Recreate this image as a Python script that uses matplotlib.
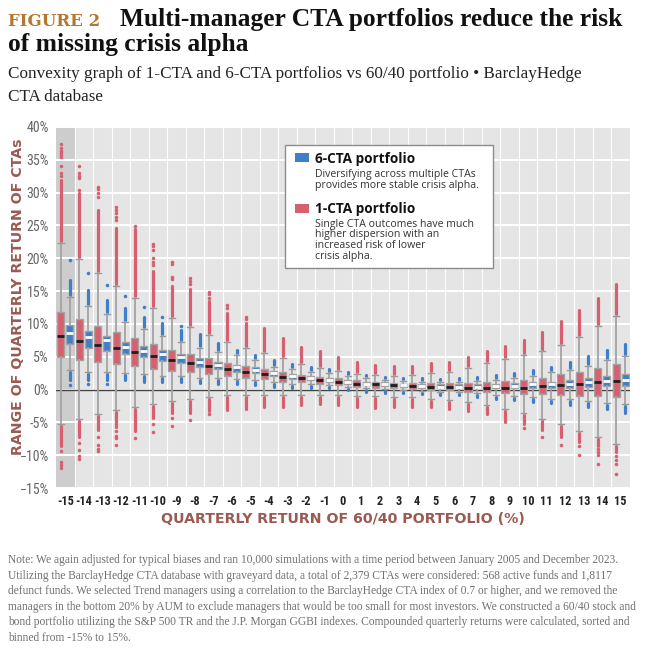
'''
Convexity graph: 1-CTA vs 6-CTA portfolios, binned by 60/40 quarterly return
'''

import numpy as np
import matplotlib
matplotlib.use('Agg')
import matplotlib.pyplot as plt
from matplotlib.patches import Rectangle
from matplotlib import font_manager

W, H = 652, 649

bins = list(range(-15, 16))
bin_labels = [str(b) for b in bins]

# 1-CTA portfolio (%), one value per bin from -15 to 15
one_med = [8.2, 7.4, 6.8, 6.3, 5.7, 5.1, 4.5, 4.0, 3.6, 3.1, 2.7, 2.4, 1.9, 1.7, 1.4, 1.2,
           0.9, 0.8, 0.7, 0.6, 0.4, 0.4, 0.3, 0.3, 0.3, 0.3, 0.5, 0.7, 0.8, 1.1, 1.3]
one_q1 = [4.9, 4.5, 4.2, 3.9, 3.6, 3.2, 2.9, 2.6, 2.4, 2.0, 1.7, 1.6, 1.2, 1.1, 0.8, 0.7,
          0.4, 0.3, 0.2, 0.1, -0.1, -0.1, -0.3, -0.4, -0.6, -0.7, -0.7, -0.9, -1.0, -1.0, -1.1]
one_q3 = [11.8, 10.7, 9.7, 8.7, 7.8, 6.9, 6.1, 5.4, 4.8, 4.1, 3.6, 3.2, 2.7, 2.2, 1.9, 1.7,
          1.4, 1.2, 1.0, 1.0, 1.0, 1.0, 1.0, 1.1, 1.3, 1.4, 1.8, 2.3, 2.7, 3.3, 3.9]
one_whishi = [22.3, 19.9, 17.7, 15.8, 14.0, 12.5, 10.9, 9.6, 8.3, 7.3, 6.3, 5.5, 4.8, 3.9, 3.3, 2.8,
              2.4, 2.2, 2.1, 2.2, 2.5, 2.7, 3.3, 4.1, 4.7, 5.2, 5.8, 6.8, 8.0, 9.7, 11.2]
one_whislo = [-5.3, -4.5, -3.8, -3.1, -2.6, -2.2, -1.7, -1.4, -1.2, -0.9, -0.8, -0.8, -0.8, -0.8, -0.8, -0.9,
              -1.0, -1.0, -1.1, -1.2, -1.4, -1.6, -1.9, -2.4, -3.0, -3.6, -4.5, -5.3, -6.3, -7.3, -8.3]
# end of the dense run of outliers beyond each whisker
one_out_hi = [31.9, 30.0, 27.4, 24.6, 24.5, 18.0, 15.7, 15.3, 13.5, 11.6, 10.1, 9.4, 7.8, 6.5, 5.8, 5.0,
              4.2, 3.8, 3.6, 3.6, 4.0, 4.2, 4.9, 5.8, 6.6, 7.5, 8.8, 10.5, 12.1, 14.0, 16.1]
one_out_lo = [-8.6, -7.2, -6.2, -5.7, -6.3, -4.4, -3.6, -3.6, -3.3, -3.1, -2.9, -2.6, -2.6, -2.4, -2.2, -2.4,
              -2.6, -2.8, -2.7, -2.6, -2.7, -2.9, -3.2, -3.7, -4.9, -5.2, -6.2, -7.2, -8.0, -8.6, -9.5]
# single outliers further out
one_dots = {-15: [37.4, 36.8, 36.4, 36.1, 35.7, 35.4, 34.0, 33.0, 32.5, -9.4, -11.0, -11.5, -12.0],
            -14: [34.1, 33.0, 32.5, 32.2, 30.4, -8.2, -9.2, -10.2, -10.6],
            -13: [30.9, 30.5, 29.9, 29.4, -7.3, -8.5, -9.0, -9.4],
            -12: [27.8, 27.4, 26.9, 26.3, 25.8, -6.3, -7.1, -7.4, -8.5],
            -11: [24.9, -7.4],
            -10: [22.1, 21.8, 21.3, 20.0, 19.5, 19.0, -5.2, -6.4],
            -9: [19.5, 19.1, 17.2, 16.8, -4.4, -5.5],
            -8: [17.0, 16.6, 16.1, -4.6],
            -7: [14.9, 14.5, 14.0, -3.8],
            -6: [12.9, 12.4],
            -5: [11.1, 10.7],
            10: [-5.9], 11: [-7.2], 12: [-8.5], 13: [-8.6, -9.9],
            14: [-9.1, -9.5, -10.0, -11.3],
            15: [-10.2, -10.7, -11.3, -12.8]}

# 6-CTA portfolio (%)
six_med = [8.6, 8.0, 7.5, 6.5, 5.9, 5.4, 4.9, 4.2, 3.8, 3.4, 3.0, 2.5, 2.1, 1.8, 1.4, 1.2,
           0.9, 0.8, 0.7, 0.5, 0.4, 0.4, 0.4, 0.5, 0.6, 0.8, 0.8, 0.9, 1.1, 1.3, 1.4]
six_q1 = [7.0, 6.4, 5.9, 5.4, 4.9, 4.3, 4.0, 3.5, 3.1, 2.7, 2.5, 2.0, 1.6, 1.4, 1.2, 0.8,
          0.7, 0.5, 0.4, 0.2, 0.2, 0.2, 0.2, 0.2, 0.2, 0.2, 0.2, 0.3, 0.4, 0.5, 0.6]
six_q3 = [9.8, 8.9, 8.2, 7.3, 6.7, 6.0, 5.4, 4.8, 4.2, 3.8, 3.4, 2.9, 2.4, 2.1, 1.8, 1.4,
          1.2, 1.1, 0.9, 0.8, 0.8, 0.8, 0.8, 0.9, 1.0, 1.1, 1.2, 1.4, 1.7, 2.0, 2.4]
six_whishi = [14.1, 12.8, 11.5, 10.3, 9.3, 8.2, 7.3, 6.4, 5.7, 5.3, 4.5, 3.5, 3.1, 2.7, 2.5, 2.1,
              1.7, 1.4, 1.3, 1.1, 1.1, 1.2, 1.3, 1.5, 1.8, 2.1, 2.7, 3.0, 3.6, 4.5, 5.1]
six_whislo = [3.0, 2.7, 2.6, 2.5, 2.3, 2.1, 2.0, 1.8, 1.7, 1.6, 1.4, 1.2, 0.9, 0.8, 0.7, 0.4,
              0.2, 0.1, 0.0, -0.2, -0.3, -0.4, -0.6, -0.8, -1.0, -1.2, -1.5, -1.5, -1.7, -2.1, -2.2]
six_out_hi = [16.7, 15.2, 13.7, 12.4, 11.1, 10.1, 9.0, 8.4, 7.1, 6.1, 5.2, 4.5, 3.9, 3.4, 3.1, 2.6,
              2.2, 1.9, 1.8, 1.7, 1.6, 1.8, 1.9, 2.2, 2.5, 3.0, 3.4, 4.2, 5.1, 6.0, 6.9]
six_out_lo = [1.4, 1.4, 1.5, 1.4, 1.2, 1.2, 1.1, 1.0, 0.9, 0.8, 0.7, 0.4, 0.3, 0.3, 0.2, -0.1,
              -0.3, -0.5, -0.6, -0.7, -0.8, -0.9, -1.1, -1.4, -1.6, -1.9, -2.1, -2.4, -2.6, -3.0, -3.5]
six_dots = {-15: [19.7, 0.7], -14: [17.8, 0.8], -13: [16.0, 0.9], -12: [14.3],
            -11: [12.6], -10: [11.1], -9: [9.7]}

RED = '#d6606f'
BLUE = '#3f7ecb'
AXLAB = '#9a5a52'

# narrow fonts for the tick labels, if the machine has one
names = {f.name for f in font_manager.fontManager.ttflist}
NARROW = next((n for n in ['Liberation Sans Narrow', 'Roboto Condensed'] if n in names), None)
if NARROW:
    XT = dict(family=NARROW, fontsize=8.8, weight='bold')
    YT = dict(family=NARROW, fontsize=10)
else:
    XT = dict(family='Roboto', fontsize=8.2, weight='medium')
    YT = dict(family='DejaVu Sans Condensed' if 'DejaVu Sans Condensed' in names else 'Roboto',
              fontsize=9.4)


def fx(x):
    return x / W


def fy(y):
    return 1 - y / H


def draw_series(ax, offset, med, q1, q3, lo, hi, out_lo, out_hi, dots, color, medcolor):
    pos = np.array(bins) + offset
    stats = [dict(med=m, q1=a, q3=b, whislo=l, whishi=h)
             for m, a, b, l, h in zip(med, q1, q3, lo, hi)]
    ax.bxp(stats, positions=pos, widths=0.38, capwidths=0.32, patch_artist=True,
           showfliers=False, manage_ticks=False,
           boxprops=dict(facecolor=color, edgecolor='#a3a3a3', linewidth=1),
           whiskerprops=dict(color='#a3a3a3', linewidth=1.3),
           capprops=dict(color='#9a9a9a', linewidth=1),
           medianprops=dict(color=medcolor, linewidth=2, solid_capstyle='butt'),
           zorder=3)
    ax.vlines(pos, np.array(hi) + 0.3, out_hi, colors=color, linewidth=2.3, capstyle='round', zorder=2.5)
    ax.vlines(pos, out_lo, np.array(lo) - 0.3, colors=color, linewidth=2.3, capstyle='round', zorder=2.5)
    for b, vals in dots.items():
        ax.scatter([b + offset] * len(vals), vals, s=6.5, color=color, linewidths=0, zorder=2.5)


fig = plt.figure(figsize=(W / 100, H / 100), dpi=100)
ax = fig.add_axes([fx(56), fy(488), fx(630) - fx(56), fy(127) - fy(488)])
ax.set_facecolor('#e5e5e5')
ax.axvspan(-15.5, -14.5, color='#cdcdcd', zorder=0)
for y in range(-15, 45, 5):
    ax.axhline(y, color='white', linewidth=1.4, zorder=1)
for b in bins[:-1]:
    ax.axvline(b + 0.5, color='white', linewidth=0.8, zorder=1)
ax.axhline(0, color='#444444', linewidth=1, zorder=2)

draw_series(ax, -0.25, one_med, one_q1, one_q3, one_whislo, one_whishi, one_out_lo, one_out_hi,
            one_dots, RED, '#1e1e1e')
draw_series(ax, 0.25, six_med, six_q1, six_q3, six_whislo, six_whishi, six_out_lo, six_out_hi,
            six_dots, BLUE, 'white')

ax.set_xlim(-15.5, 15.5)
ax.set_ylim(-15, 40)
ax.set_xticks(bins)
ax.set_xticklabels(bin_labels, color='#222222', **XT)
yt = list(range(-15, 45, 5))
ax.set_yticks(yt)
ax.set_yticklabels([('\u2212%d%%' % -v) if v < -5 else '%d%%' % v for v in yt],
                   color='#666666', **YT)
ax.tick_params(length=0, pad=5)
for s in ax.spines.values():
    s.set_visible(False)

ax.set_xlabel('QUARTERLY RETURN OF 60/40 PORTFOLIO (%)', fontsize=10.2, weight='bold',
              color=AXLAB, labelpad=3)
ax.set_ylabel('RANGE OF QUARTERLY RETURN OF CTAs', fontsize=10.2, weight='bold',
              color=AXLAB)
ax.yaxis.set_label_coords((25 - 56) / 574, (489 - 298) / 361)

# legend panel
lx0, ly0, lx1, ly1 = 285, 145, 493, 268
fig.patches.append(Rectangle((fx(lx0), fy(ly1)), fx(lx1) - fx(lx0), fy(ly0) - fy(ly1),
                             transform=fig.transFigure, facecolor='white', edgecolor='#8c8c8c',
                             linewidth=1, zorder=5))
fig.patches.append(Rectangle((fx(295), fy(162)), fx(14), fy(0) - fy(9), transform=fig.transFigure,
                             facecolor=BLUE, edgecolor='none', zorder=6))
fig.patches.append(Rectangle((fx(295), fy(213)), fx(14), fy(0) - fy(9), transform=fig.transFigure,
                             facecolor=RED, edgecolor='none', zorder=6))
legend_rows = [(163, '6-CTA portfolio', True),
               (177.5, 'Diversifying across multiple CTAs', False),
               (188.5, 'provides more stable crisis alpha.', False),
               (213, '1-CTA portfolio', True),
               (226.5, 'Single CTA outcomes have much', False),
               (237.5, 'higher dispersion with an', False),
               (248.5, 'increased risk of lower', False),
               (259.5, 'crisis alpha.', False)]
for yb, txt, head in legend_rows:
    fig.text(fx(315), fy(yb), txt, fontsize=9.8 if head else 7.6, weight='bold' if head else 'normal',
             family='Open Sans', color='#111111' if head else '#333333', va='baseline', zorder=7)

# titles
fig.text(fx(8), fy(26), 'FIGURE 2', fontsize=12, weight='bold', family='DejaVu Serif',
         color='#b5772f', va='baseline')
fig.text(fx(120), fy(26), 'Multi-manager CTA portfolios reduce the risk', fontsize=18.4,
         weight='bold', family='Liberation Serif', color='#111111', va='baseline')
fig.text(fx(8), fy(51), 'of missing crisis alpha', fontsize=18.4,
         weight='bold', family='Liberation Serif', color='#111111', va='baseline')
fig.text(fx(8), fy(78), 'Convexity graph of 1-CTA and 6-CTA portfolios vs 60/40 portfolio \u2022 BarclayHedge',
         fontsize=12.3, family='Liberation Serif', color='#222222', va='baseline')
fig.text(fx(8), fy(101), 'CTA database', fontsize=12.3, family='Liberation Serif',
         color='#222222', va='baseline')

note = ('Note: We again adjusted for typical biases and ran 10,000 simulations with a time period between January 2005 and December 2023.\n'
        'Utilizing the BarclayHedge CTA database with graveyard data, a total of 2,379 CTAs were considered: 568 active funds and 1,8117\n'
        'defunct funds. We selected Trend managers using a correlation to the BarclayHedge CTA index of 0.7 or higher, and we removed the\n'
        'managers in the bottom 20% by AUM to exclude managers that would be too small for most investors. We constructed a 60/40 stock and\n'
        'bond portfolio utilizing the S&P 500 TR and the J.P. Morgan GGBI indexes. Compounded quarterly returns were calculated, sorted and\n'
        'binned from -15% to 15%.')
fig.text(fx(8), fy(554), note, fontsize=8.3, family='Liberation Serif', color='#707070',
         va='top', linespacing=1.4)

plt.savefig('out.png', dpi=100)
